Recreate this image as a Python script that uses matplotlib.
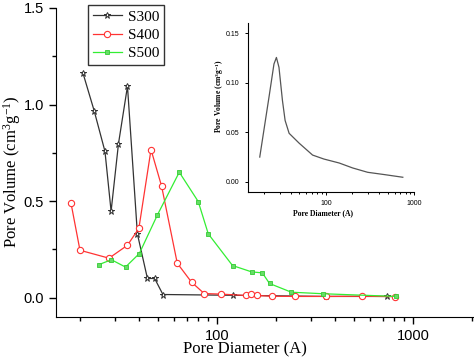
import matplotlib
matplotlib.use('Agg')
import matplotlib.pyplot as plt
from matplotlib.ticker import LogLocator, NullFormatter, MultipleLocator, FixedLocator, FixedFormatter

# S300 - black stars
s300_d = [20.6, 23.5, 26.7, 28.7, 31.3, 34.8, 39.1, 44.0, 47.9, 52.8, 119.8, 359, 740]
s300_v = [1.164, 0.969, 0.758, 0.448, 0.797, 1.095, 0.331, 0.10, 0.10, 0.017, 0.013, 0.007, 0.007]

# S400 - red circles
s400_d = [17.9, 19.9, 28.0, 34.8, 39.8, 45.9, 52.0, 62.5, 73.9, 85.8, 104.8, 140, 149.6, 160, 190, 251, 360, 551, 810]
s400_v = [0.491, 0.246, 0.205, 0.272, 0.36, 0.767, 0.577, 0.179, 0.081, 0.022, 0.019, 0.012, 0.019, 0.012,
          0.008, 0.007, 0.007, 0.008, 0.006]

# S500 - green
s500_d = [24.9, 28.8, 34.0, 40.0, 49.5, 64.0, 80.0, 90.0, 119.7, 150, 170, 185, 239, 346, 822]
s500_v = [0.172, 0.197, 0.159, 0.229, 0.429, 0.650, 0.498, 0.331, 0.167, 0.134, 0.129, 0.074, 0.029, 0.021, 0.007]

# inset curve
inset_d = [17.8, 22.7, 25.8, 27.5, 29.4, 32.2, 34.5, 38.3, 49.8, 70.7, 95, 141.6, 201, 298, 460, 745]
inset_v = [0.025, 0.086, 0.119, 0.1256, 0.1156, 0.082, 0.062, 0.049, 0.039, 0.027, 0.023, 0.019, 0.014,
           0.0096, 0.0073, 0.0046]

serif = ['Liberation Serif', 'DejaVu Serif']
sans = ['Liberation Sans', 'DejaVu Sans']
plt.rcParams['mathtext.default'] = 'regular'

fig = plt.figure(figsize=(4.74, 3.62), dpi=100)
ax = fig.add_axes([0.118, 0.124, 0.882, 0.854])

ax.plot(s300_d, s300_v, color='#333333', lw=0.9, marker='*', ms=5, mfc='white', mec='#333333', mew=0.7, label='S300')
ax.plot(s400_d, s400_v, color='#ff3333', lw=0.9, marker='o', ms=4.5, mfc='white', mec='#ff3333', mew=0.8, label='S400')
ax.plot(s500_d, s500_v, color='#33ee33', lw=0.9, marker='s', ms=2.5, mfc='#66dd66', mec='#33cc33', mew=0.6, label='S500')

ax.set_xscale('log')
ax.set_xlim(15, 2050)
ax.set_ylim(-0.1, 1.5)
ax.set_yticks([0.0, 0.5, 1.0, 1.5])
ax.yaxis.set_minor_locator(MultipleLocator(0.25))
ax.xaxis.set_major_locator(FixedLocator([100, 1000]))
ax.xaxis.set_major_formatter(FixedFormatter(['100', '1000']))
ax.xaxis.set_minor_locator(LogLocator(base=10, subs=range(2, 10)))
ax.xaxis.set_minor_formatter(NullFormatter())
ax.spines['top'].set_visible(False)
ax.spines['right'].set_visible(False)
ax.tick_params(which='major', direction='out', length=5, width=1, labelsize=10.5)
ax.tick_params(which='minor', direction='out', length=3, width=1)
for lab in ax.get_xticklabels() + ax.get_yticklabels():
    lab.set_family(sans)
ax.set_xlabel('Pore Diameter (A)', family=serif, fontsize=12, va='center')
ax.xaxis.set_label_coords(0.452, -0.105)
ax.set_ylabel('Pore Volume (cm$^{3}$g$^{-1}$)', family=serif, fontsize=12, va='center')
ax.yaxis.set_label_coords(-0.106, 0.47)

leg = ax.legend(loc='upper left', bbox_to_anchor=(0.186, 0.985), bbox_transform=fig.transFigure,
                prop={'family': serif, 'size': 11}, frameon=True, fancybox=False, borderaxespad=0,
                edgecolor='black', handlelength=1.9, handletextpad=0.4, borderpad=0.3, labelspacing=0.3)
leg.get_frame().set_linewidth(1.0)

# inset
ins = fig.add_axes([0.5226, 0.4704, 0.351, 0.465])
ins.plot(inset_d, inset_v, color='#555555', lw=0.9)
ins.set_xscale('log')
ins.set_xlim(13, 1000)
ins.set_ylim(-0.01, 0.16)
ins.set_yticks([0.0, 0.05, 0.10, 0.15])
ins.set_yticklabels(['0.00', '0.05', '0.10', '0.15'])
ins.xaxis.set_major_locator(FixedLocator([100, 1000]))
ins.xaxis.set_major_formatter(FixedFormatter(['100', '1000']))
ins.xaxis.set_minor_locator(LogLocator(base=10, subs=range(2, 10)))
ins.xaxis.set_minor_formatter(NullFormatter())
ins.spines['top'].set_visible(False)
ins.spines['right'].set_visible(False)
ins.patch.set_alpha(0)
ins.tick_params(which='major', direction='out', length=2.5, width=0.7, labelsize=5)
ins.tick_params(which='minor', direction='out', length=1.5, width=0.7)
for lab in ins.get_xticklabels() + ins.get_yticklabels():
    lab.set_family(sans)
ins.set_xlabel('Pore Diameter (A)', family=serif, fontsize=5.5, fontweight='bold', va='center')
ins.xaxis.set_label_coords(0.45, -0.13)
ins.set_ylabel('Pore Volume (cm$^{3}$g$^{-1}$)', family=serif, fontsize=5.5, fontweight='bold', va='center')
ins.yaxis.set_label_coords(-0.17, 0.57)

fig.savefig('out.png', dpi=100)
